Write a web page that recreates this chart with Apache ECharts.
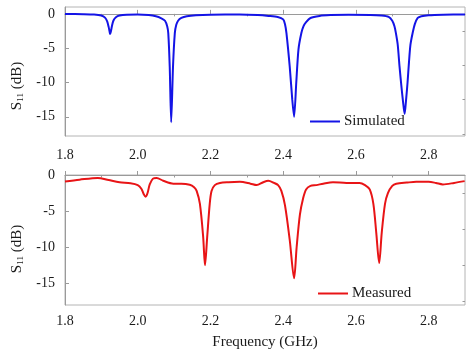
<!DOCTYPE html>
<html><head><meta charset="utf-8">
<script src="https://cdn.jsdelivr.net/npm/echarts@6/dist/echarts.min.js"></script>
<style>html,body{margin:0;padding:0;background:#fff}#c{width:474px;height:353px}</style>
</head><body><div id="c"></div>
<script>
// ---- data ----
const simX = [1.80,1.85,1.88,1.90,1.91,1.916,1.92,1.923,1.924,1.926,1.929,1.933,1.94,1.95,1.97,2.00,2.03,2.05,2.065,2.075,2.081,2.084,2.088,2.092,2.097,2.102,2.106,2.111,2.12,2.135,2.16,2.2,2.28,2.33,2.36,2.385,2.40,2.405,2.409,2.418,2.425,2.430,2.436,2.442,2.450,2.456,2.463,2.475,2.50,2.53,2.58,2.64,2.67,2.69,2.70,2.706,2.710,2.715,2.720,2.725,2.729,2.734,2.738,2.742,2.746,2.750,2.756,2.762,2.770,2.78,2.80,2.84,2.9];
const simY = [-0.02,-0.05,-0.1,-0.25,-0.55,-1.1,-1.9,-2.7,-2.95,-2.6,-1.8,-1.0,-0.5,-0.25,-0.12,-0.1,-0.18,-0.35,-0.65,-1.0,-1.8,-2.8,-7.7,-15.8,-7.7,-2.8,-1.6,-1.0,-0.6,-0.35,-0.2,-0.12,-0.1,-0.18,-0.3,-0.45,-0.8,-1.5,-2.8,-7.7,-12.5,-15.0,-10,-5.2,-2.8,-1.8,-1.2,-0.6,-0.3,-0.18,-0.12,-0.15,-0.25,-0.45,-1.0,-1.8,-2.8,-4.5,-7.7,-10.5,-12.5,-14.6,-12.5,-10,-7,-4.5,-2.8,-1.5,-0.6,-0.35,-0.2,-0.12,-0.08];
const measX = [1.80,1.84,1.89,1.92,1.95,1.98,2.00,2.01,2.017,2.022,2.027,2.033,2.042,2.052,2.07,2.098,2.12,2.143,2.155,2.162,2.171,2.180,2.185,2.191,2.198,2.203,2.212,2.226,2.25,2.281,2.31,2.327,2.345,2.359,2.375,2.386,2.395,2.405,2.418,2.430,2.437,2.446,2.455,2.463,2.475,2.491,2.51,2.537,2.574,2.61,2.625,2.638,2.648,2.656,2.664,2.671,2.68,2.688,2.70,2.711,2.74,2.766,2.80,2.82,2.839,2.87,2.899];
const measY = [-0.9,-0.65,-0.4,-0.7,-1.0,-1.15,-1.4,-1.9,-2.7,-3.0,-2.5,-1.3,-0.5,-0.4,-0.8,-1.2,-1.2,-1.35,-1.7,-2.2,-4.0,-8.6,-12.5,-8.6,-4.0,-2.2,-1.4,-1.1,-1.0,-0.95,-1.2,-1.4,-1.0,-0.8,-1.1,-1.4,-2.2,-4.2,-9,-14.3,-10,-5.5,-3.2,-2.0,-1.5,-1.4,-1.2,-1.0,-1.1,-1.1,-1.4,-2.0,-4,-8,-12.2,-8,-4,-2.5,-1.5,-1.2,-1.05,-0.95,-0.95,-1.1,-1.3,-1.1,-0.85];
const xTicks = [1.8,2.0,2.2,2.4,2.6,2.8];
const xMinorTicks = [1.9,2.1,2.3,2.5,2.7];
const yTicks = [0,-5,-10,-15];
const yMinorTicksTop = [-2.5,-7.5,-12.5,-17.5];
const yMinorTicksBottom = [-2.5,-7.5,-12.5,-17.5];
const seriesNames = ['Simulated','Measured'];
const xLabel = 'Frequency (GHz)';

// ---- chart ----
const FONT = 'Liberation Serif';
const txtColor = '#1a1a1a';
const axisColor = '#9a9a9a';
const zip = (a,b) => a.map((v,i)=>[v,b[i]]);

function xAxes(gi, withName){
  return [{
    type:'value', gridIndex:gi, min:1.8, max:2.9,
    axisLine:{show:true,lineStyle:{color:axisColor,width:1}},
    axisTick:{show:true,inside:true,length:4,customValues:xTicks,lineStyle:{color:axisColor}},
    axisLabel:{customValues:xTicks,formatter:v=>v.toFixed(1),color:txtColor,fontFamily:FONT,fontSize:14,margin: gi===0?12:9},
    splitLine:{show:false},
    name: withName?xLabel:'', nameLocation:'middle', nameGap:30,
    nameTextStyle:{color:txtColor,fontFamily:FONT,fontSize:15}
  },{
    type:'value', gridIndex:gi, min:1.8, max:2.9,
    axisLine:{show:false},
    axisTick:{show:true,inside:true,length:2.5,customValues:xMinorTicks,lineStyle:{color:axisColor}},
    axisLabel:{show:false}, splitLine:{show:false}
  }];
}
function yAxes(gi, min, max, minor){
  return [{
    type:'value', gridIndex:gi, min:min, max:max,
    axisLine:{show:true,lineStyle:{color:axisColor,width:1}},
    axisTick:{show:true,inside:true,length:4,customValues:yTicks,lineStyle:{color:axisColor}},
    axisLabel:{customValues:yTicks,color:txtColor,fontFamily:FONT,fontSize:14,margin:10},
    splitLine:{show:false}
  },{
    type:'value', gridIndex:gi, min:min, max:max,
    axisLine:{show:false},
    axisTick:{show:true,inside:true,length:2.5,customValues:minor,lineStyle:{color:axisColor}},
    axisLabel:{show:false}, splitLine:{show:false}
  }];
}

const chart = echarts.init(document.getElementById('c'), null, {renderer:'canvas'});
const yTitle = (y) => ({
  type:'text', x:17, y:y, rotation:Math.PI/2,
  style:{
    text:'{s|S}{b|11}{s| (dB)}',
    rich:{
      s:{fontFamily:FONT,fontSize:15,fill:txtColor},
      b:{fontFamily:FONT,fontSize:9,fill:txtColor,verticalAlign:'bottom',padding:[8,0,0,0]}
    },
    align:'center', verticalAlign:'middle', fill:txtColor
  }
});

chart.setOption({
  animation:false,
  backgroundColor:'#fff',
  grid:[
    {left:65,top:7,width:400,height:129,show:true,borderColor:'#b4b4b4',borderWidth:1,backgroundColor:'transparent'},
    {left:65,top:175,width:400,height:130,show:true,borderColor:'#b4b4b4',borderWidth:1,backgroundColor:'transparent'}
  ],
  xAxis:[...xAxes(0,false), ...xAxes(1,true)],
  yAxis:[...yAxes(0,-17.8,1,yMinorTicksTop), ...yAxes(1,-18,0,yMinorTicksBottom)],
  legend:[
    {data:[seriesNames[0]],left:305,top:109,icon:'rect',itemWidth:30,itemHeight:2,itemGap:0,
     textStyle:{fontFamily:FONT,fontSize:15,color:txtColor,padding:[0,0,0,-1]}},
    {data:[seriesNames[1]],left:313,top:281,icon:'rect',itemWidth:30,itemHeight:2,itemGap:0,
     textStyle:{fontFamily:FONT,fontSize:15,color:txtColor,padding:[0,0,0,-1]}}
  ],
  graphic:[yTitle(86), yTitle(249)],
  series:[
    {name:seriesNames[0],type:'line',xAxisIndex:0,yAxisIndex:0,data:zip(simX,simY),
     showSymbol:false,smooth:0.25,lineStyle:{color:'#1414e6',width:2},itemStyle:{color:'#1414e6'}},
    {name:seriesNames[1],type:'line',xAxisIndex:2,yAxisIndex:2,data:zip(measX,measY),
     showSymbol:false,smooth:0.3,lineStyle:{color:'#e81416',width:2},itemStyle:{color:'#e81416'}}
  ]
});
</script>
</body></html>
